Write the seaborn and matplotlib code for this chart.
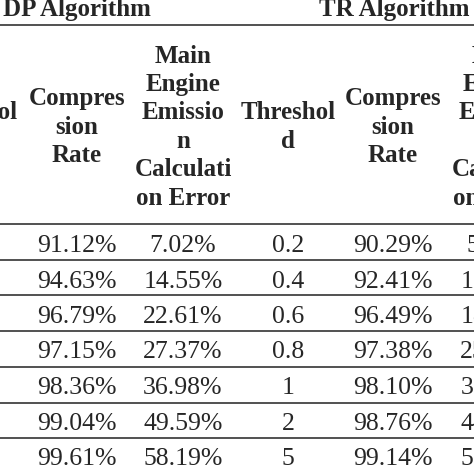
import matplotlib
matplotlib.use("Agg")
import matplotlib.pyplot as plt
import seaborn as sns

# ─── DATA ────────────────────────────────────────────────────
dp_threshold = ["0.2", "0.4", "0.6", "0.8", "1", "2", "5"]
dp_rate      = ["91.12%", "94.63%", "96.79%", "97.15%", "98.36%", "99.04%", "99.61%"]
dp_error     = ["7.02%", "14.55%", "22.61%", "27.37%", "36.98%", "49.59%", "58.19%"]
tr_threshold = ["0.2", "0.4", "0.6", "0.8", "1", "2", "5"]
tr_rate      = ["90.29%", "92.41%", "96.49%", "97.38%", "98.10%", "98.76%", "99.14%"]
tr_error     = ["5.12%", "12.30%", "18.44%", "25.67%", "33.05%", "44.81%", "55.92%"]

groups  = ["DP Algorithm", "TR Algorithm"]
headers = ["Threshol\nd", "Compres\nsion\nRate", "Main\nEngine\nEmissio\nn\nCalculati\non Error"]

sns.set_theme(style="white")
plt.rcParams["font.family"] = ["Liberation Serif", "DejaVu Serif"]

fig = plt.figure(figsize=(4.74, 4.74), dpi=100)
ax = fig.add_axes([0, 0, 1, 1])
ax.set_xlim(0, 474)
ax.set_ylim(474, 0)
ax.axis("off")

col_x = [-30, 77, 183, 288, 393, 500]
columns = [dp_threshold, dp_rate, dp_error, tr_threshold, tr_rate, tr_error]
row_y0, row_h = 246, 35.5

# group titles
ax.text(77, 9, groups[0], ha="center", va="center", fontsize=18, fontweight="bold")
ax.text(394, 9, groups[1], ha="center", va="center", fontsize=18, fontweight="bold")

# header
for i, x in enumerate(col_x):
    ax.text(x, 127, headers[i % 3], ha="center", va="center", fontsize=18,
            fontweight="bold", linespacing=1.3)

# body
for x, vals in zip(col_x, columns):
    for r, v in enumerate(vals):
        ax.text(x, row_y0 + r * row_h, v, ha="center", va="center", fontsize=18.5)

# rules
ax.axhline(25, color="#333333", lw=1.2)
ax.axhline(224, color="#333333", lw=1.2)
for r in range(1, len(dp_rate)):
    ax.axhline(224 + r * 35.7, color="#333333", lw=1.2)

fig.savefig("out.png", dpi=100)
